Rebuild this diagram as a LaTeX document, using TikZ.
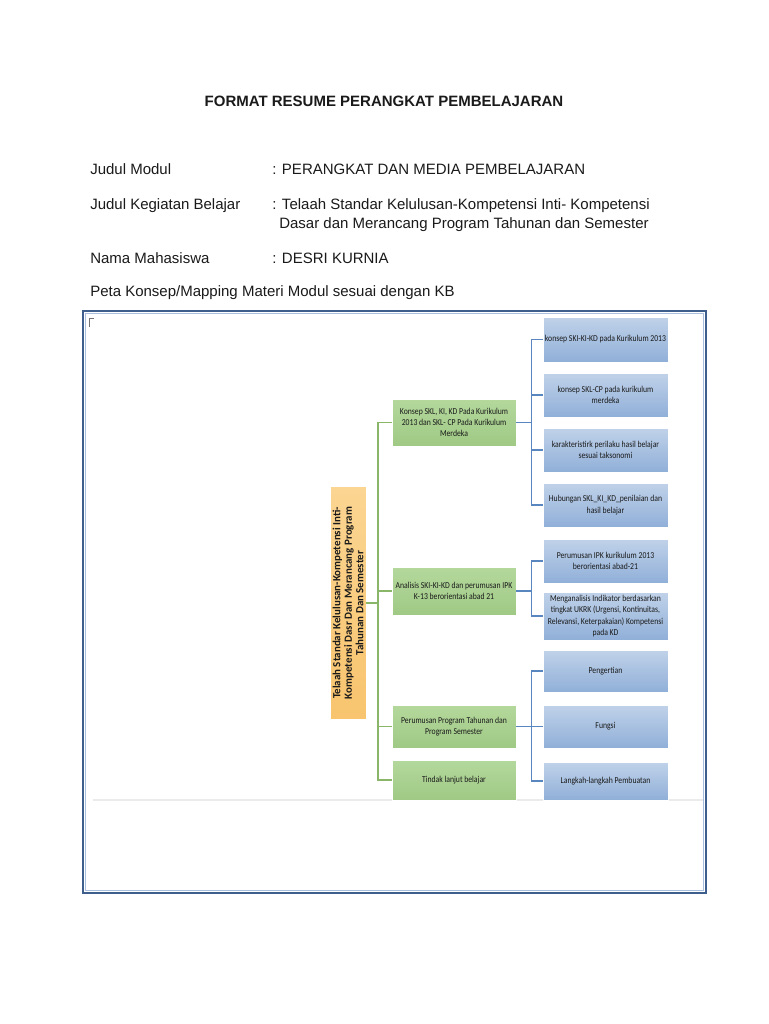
\documentclass[tikz,border=0pt]{standalone}
\usepackage{fontspec}
\setmainfont{Liberation Sans}
\newfontfamily\calibri{Carlito}
\newfontfamily\calibrin[FakeStretch=0.85]{Carlito}
\usetikzlibrary{positioning}
\definecolor{mFrame}{HTML}{3E5F8E}
\definecolor{mFrameIn}{HTML}{A9BFDD}
\definecolor{mBlueTop}{HTML}{C0D2E9}
\definecolor{mBlueBot}{HTML}{90AFD8}
\definecolor{mGreenTop}{HTML}{B4D89C}
\definecolor{mGreenBot}{HTML}{9FC985}
\definecolor{mOrangeTop}{HTML}{FBD592}
\definecolor{mOrangeBot}{HTML}{F8C46E}
\definecolor{mBlueLine}{HTML}{5A86BF}
\definecolor{mGreenLine}{HTML}{8AB66A}
\definecolor{mInk}{HTML}{1A1A1A}

\begin{document}
\begin{tikzpicture}[x=0.75pt, y=-0.75pt,
  head/.style={anchor=base west, inner sep=0pt, text=mInk, font=\fontsize{11.25}{13.5}\selectfont},
  root/.style={rotate=90, minimum width=174.75pt, minimum height=27pt, inner sep=1pt, align=center,
               top color=mOrangeTop, bottom color=mOrangeBot, draw=white, line width=0.4pt,
               text=mInk, font=\calibri\bfseries\fontsize{8.2}{8.6}\selectfont},
  topic/.style={minimum width=93pt, inner sep=1pt, align=center, top color=mGreenTop, bottom color=mGreenBot,
                draw=white, line width=0.4pt, text=mInk, font=\calibrin\fontsize{6.8}{8.5}\selectfont},
  sub/.style={minimum width=93.75pt, minimum height=33pt, inner sep=1pt, align=center,
              top color=mBlueTop, bottom color=mBlueBot, draw=white, line width=0.4pt,
              text=mInk, font=\calibrin\fontsize{6.8}{8.5}\selectfont},
  gline/.style={mGreenLine, line width=1pt},
  bline/.style={mBlueLine, line width=1pt}]
  \fill[white] (0,0) rectangle (768,1024);
  \useasboundingbox (0,0) rectangle (768,1024);
  % header
  \node[anchor=base, inner sep=0pt, text=mInk, font=\bfseries\fontsize{11.25}{13.5}\selectfont] (title) at (384,107)
    {FORMAT RESUME PERANGKAT PEMBELAJARAN};
  \node[head] (modul) at (90,174) {Judul Modul};
  \node[head] (modulv) at (272,174) {: PERANGKAT DAN MEDIA PEMBELAJARAN};
  \node[head] (kb) at (90,209) {Judul Kegiatan Belajar};
  \node[head] (kbv) at (272,209) {: Telaah Standar Kelulusan-Kompetensi Inti- Kompetensi};
  \node[head] (kbw) at (279,228) {Dasar dan Merancang Program Tahunan dan Semester};
  \node[head] (nama) at (90,263) {Nama Mahasiswa};
  \node[head] (namav) at (272,263) {: DESRI KURNIA};
  \node[head] (peta) at (90,296) {Peta Konsep/Mapping Materi Modul sesuai dengan KB};
  % frame
  \draw[mFrame, line width=1.8pt] (83,311) rectangle (706,893);
  \draw[mFrameIn, line width=0.9pt] (85.6,313.6) rectangle (703.4,890.4);
  \draw[black!55, line width=0.6pt] (89,327) -- (89,318) -- (94,318);
  \draw[black!8, line width=1pt] (93,800) -- (703,800);
  % root
  \node[root] (root) at (348,603) {Telaah Standar Kelulusan-Kompetensi Inti-\\Kompetensi Dasr Dan Merancang Program\\Tahunan Dan Semester};
  % topics
  \node[topic, minimum height=35.25pt] (kon) at (454,422.5) {Konsep SKL, KI, KD Pada Kurikulum\\2013 dan SKL- CP Pada Kurikulum\\Merdeka};
  \node[topic, minimum height=36pt] (ana) at (454,591) {Analisis SKI-KI-KD dan perumusan IPK\\K-13 berorientasi abad 21};
  \node[topic, minimum height=32.25pt] (pro) at (454,726.5) {Perumusan Program Tahunan dan\\Program Semester};
  \node[topic, minimum height=30pt] (tin) at (454,780) {Tindak lanjut belajar};
  % subtopics
  \node[sub, minimum height=33.75pt] (k13) at (605.5,339.5) {konsep SKI-KI-KD pada Kurikulum 2013};
  \node[sub] (sklcp) at (605.5,395) {konsep SKL-CP pada kurikulum\\merdeka};
  \node[sub] (takso) at (605.5,450) {karakteristirk perilaku hasil belajar\\sesuai taksonomi};
  \node[sub] (hub) at (605.5,505) {Hubungan SKL\_KI\_KD\_penilaian dan\\hasil belajar};
  \node[sub] (ipk) at (605.5,561) {Perumusan IPK kurikulum 2013\\berorientasi abad-21};
  \node[sub, minimum height=36pt] (ukrk) at (605.5,616) {Menganalisis Indikator berdasarkan\\tingkat UKRK (Urgensi, Kontinuitas,\\Relevansi, Keterpakaian) Kompetensi\\pada KD};
  \node[sub, minimum height=31.5pt] (pengertian) at (605.5,671) {Pengertian};
  \node[sub, minimum height=32.25pt] (fungsi) at (605.5,726.5) {Fungsi};
  \node[sub, minimum height=28.5pt] (langkah) at (605.5,781) {Langkah-langkah Pembuatan};
  % green connectors
  \coordinate (trunk) at (378,603);
  \draw[gline] (root.south) -- (trunk);
  \foreach \t in {kon,ana,pro,tin}
    \draw[gline] (trunk) |- (\t.west);
  % blue connectors
  \draw[bline] (kon.east) -- ++(15,0) coordinate (jkon);
  \foreach \s in {k13,sklcp,takso,hub}
    \draw[bline] (jkon) |- (\s.west);
  \draw[bline] (ana.east) -- ++(15,0) coordinate (jana);
  \foreach \s in {ipk,ukrk}
    \draw[bline] (jana) |- (\s.west);
  \draw[bline] (pro.east) -- ++(15,0) coordinate (jpro);
  \foreach \s in {pengertian,fungsi,langkah}
    \draw[bline] (jpro) |- (\s.west);
\end{tikzpicture}
\end{document}
